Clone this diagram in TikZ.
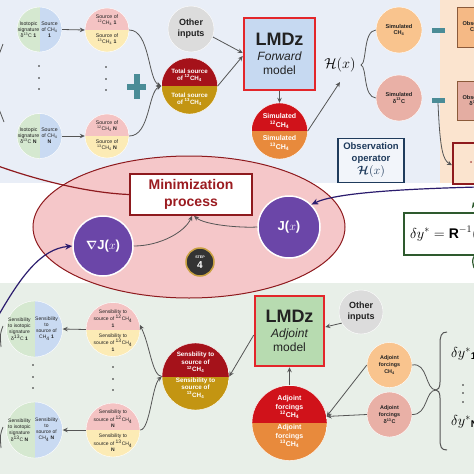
\documentclass[tikz,border=0pt]{standalone}
\usepackage{amsmath}
\usepackage{fontspec}
\setmainfont{Liberation Sans}
\usetikzlibrary{arrows.meta}
\newcommand\mych{CH\textsubscript{4}}
\newcommand\sps[1]{\textsuperscript{#1}}
\definecolor{topbg}{HTML}{E9EEF7}
\definecolor{orbg}{HTML}{FBE4CF}
\definecolor{botbg}{HTML}{E8EFE8}
\definecolor{cgreen}{HTML}{D5E8D0}
\definecolor{cblue}{HTML}{C9DAF2}
\definecolor{cpink}{HTML}{F4C3C3}
\definecolor{cyel}{HTML}{FCEBB5}
\definecolor{dred}{HTML}{A5121A}
\definecolor{gold}{HTML}{C39512}
\definecolor{bred}{HTML}{D0121A}
\definecolor{orng}{HTML}{E88A3C}
\definecolor{lorng}{HTML}{F9C48E}
\definecolor{lsalm}{HTML}{E9B0A6}
\definecolor{tealc}{HTML}{4A8C97}
\definecolor{lmdzred}{HTML}{E3262A}
\definecolor{fwdblue}{HTML}{C6D9F1}
\definecolor{adjgreen}{HTML}{B7DBB0}
\definecolor{ellfill}{HTML}{F5C7C9}
\definecolor{ellline}{HTML}{8E1A1E}
\definecolor{purp}{HTML}{6B46A8}
\definecolor{navy}{HTML}{2B1C6E}
\definecolor{obsnavy}{HTML}{1F3B5C}
\definecolor{arrgray}{HTML}{555555}
\definecolor{dgreen}{HTML}{2E5A2E}
\definecolor{othergray}{HTML}{DCDCDC}
\definecolor{txtdark}{HTML}{222222}
\definecolor{obsA}{HTML}{F5B985}
\definecolor{obsB}{HTML}{E4ADA2}
\definecolor{obsline}{HTML}{8B5A3A}
\definecolor{minired}{HTML}{9B1B20}
\begin{document}
\begin{tikzpicture}[x=1pt,y=-1pt,
  hs/.style n args={3}{circle, inner sep=0pt, minimum size=#3, draw=white, line width=0.4pt,
    path picture={\fill[#1] (path picture bounding box.north west) rectangle (path picture bounding box.east);
                  \fill[#2] (path picture bounding box.west) rectangle (path picture bounding box.south east);}},
  vs/.style n args={3}{circle, inner sep=0pt, minimum size=#3, draw=white, line width=0.4pt,
    path picture={\fill[#1] (path picture bounding box.north west) rectangle (path picture bounding box.south);
                  \fill[#2] (path picture bounding box.north) rectangle (path picture bounding box.south east);}},
  pc/.style 2 args={circle, inner sep=0pt, minimum size=#2, fill=#1, draw=white, line width=0.4pt},
  fs/.style={inner sep=0pt, align=center, font=\fontsize{5.2}{6}\selectfont, text=txtdark},
  fb/.style={inner sep=0pt, align=center, font=\fontsize{5.6}{6.6}\selectfont\bfseries, text=txtdark},
  fw/.style={inner sep=0pt, align=center, font=\fontsize{#1}{\dimexpr #1pt*6/5\relax}\selectfont\bfseries, text=white},
  arr/.style={draw=arrgray, line width=0.8pt, -{Stealth[length=5pt,width=4.5pt]}},
  ln/.style={draw=arrgray, line width=0.8pt},
  lmdz/.style={draw=lmdzred, line width=2.5pt, inner sep=0pt, align=center,
    font=\fontsize{12}{14}\selectfont, text=txtdark},
  obsbox/.style={draw=obsline, line width=0.8pt, minimum width=30pt, anchor=north west, inner sep=0pt}
]
\useasboundingbox (0,0) rectangle (474,474);
\clip (0,0) rectangle (474,474);
% backgrounds
\fill[topbg] (0,0) rectangle (440,183);
\fill[orbg] (440,0) rectangle (474,183);
\fill[white] (0,183) rectangle (474,283);
\fill[botbg] (0,283) rectangle (474,474);
% ellipse
\draw[draw=ellline, fill=ellfill, line width=1pt] (189,227) ellipse [x radius=156, y radius=71];

% ---------------- top panel ----------------
\node[vs={cgreen}{cblue}{45pt}] (s1) at (39.5,29.5) {};
\node[fs] (s1a) at ([xshift=-11pt]s1.center) {Isotopic\\signature\\δ\sps{13}C \textbf{1}};
\node[fs] (s1b) at ([xshift=10pt]s1.center) {Source\\of \mych\\\textbf{1}};
\node[vs={cgreen}{cblue}{45pt}] (sN) at (39.5,136) {};
\node[fs] (sNa) at ([xshift=-11pt]sN.center) {Isotopic\\signature\\δ\sps{13}C \textbf{N}};
\node[fs] (sNb) at ([xshift=10pt]sN.center) {Source\\of \mych\\\textbf{N}};

\node[hs={cpink}{cyel}{44pt}] (r1) at (107,30) {};
\node[fs] (r1a) at ([yshift=10pt]r1.center) {Source of\\\sps{12}\mych{} \textbf{1}};
\node[fs] (r1b) at ([yshift=-9pt]r1.center) {Source of\\\sps{13}\mych{} \textbf{1}};
\node[hs={cpink}{cyel}{44pt}] (rN) at (107,136) {};
\node[fs] (rNa) at ([yshift=10pt]rN.center) {Source of\\\sps{12}\mych{} \textbf{N}};
\node[fs] (rNb) at ([yshift=-9pt]rN.center) {Source of\\\sps{13}\mych{} \textbf{N}};

\foreach \yy in {66,78,89} {\fill[txtdark] (39,\yy) circle (0.9); \fill[txtdark] (106,\yy+1) circle (0.9);}

\draw[arr] (s1.east) -- (r1.west);
\draw[arr] (sN.east) -- (rN.west);
\draw[ln] (-3,60) .. controls (0,52) .. (3,44);
\draw[ln] (-3,104) .. controls (0,113) .. (4,122);

% plus
\fill[tealc] (127,83.5) rectangle (146,89.5);
\fill[tealc] (133.5,74) rectangle (139.5,99);

\node[hs={dred}{gold}{56pt}] (tot) at (189.5,86) {};
\node[fw=6.2] (tota) at ([yshift=11pt]tot.center) {Total source\\of \sps{12}\mych};
\node[fw=6.2] (totb) at ([yshift=-13pt]tot.center) {Total source\\of \sps{13}\mych};
\draw[arr] (r1.east) .. controls (150,30) and (148,80) .. (tot.west);
\draw[arr] (rN.east) .. controls (150,136) and (148,92) .. (tot.west);

\node[pc={othergray}{46pt}, font=\fontsize{9}{11}\selectfont\bfseries, text=txtdark, align=center] (oth) at (191,29) {Other\\inputs};

\node[lmdz, fill=fwdblue, minimum width=71pt, minimum height=72pt] (fwd) at (279.5,54)
  {{\fontsize{18}{18}\selectfont\bfseries LMDz}\\[1pt]{\itshape Forward}\\model};
\draw[arr] (oth.-20) -- ([yshift=1pt]fwd.west);
\draw[arr] (tot.east) -- ([yshift=-2pt]fwd.west);

\node[hs={bred}{orng}{56pt}] (sim) at (279.5,131) {};
\node[fw=7] (sima) at ([yshift=10pt]sim.center) {Simulated\\\sps{12}\mych};
\node[fw=7] (simb) at ([yshift=-12pt]sim.center) {Simulated\\\sps{13}\mych};
\draw[arr] (fwd.south) -- (sim.north);

\node[inner sep=0pt, font=\fontsize{15}{15}\selectfont] (Hx) at (340,65) {$\mathcal{H}(x)$};
\draw[arr] (sim.east) -- ([yshift=-17pt]Hx.center);

\node[pc={lorng}{46pt}] (scC) at (399,30) {};
\node[fb] (scCt) at (scC.center) {Simulated\\\mych};
\node[pc={lsalm}{46pt}] (scD) at (399,98) {};
\node[fb] (scDt) at (scD.center) {Simulated\\δ\sps{13}C};
\coordinate (Htip) at (361,65);
\draw[ln] (Htip) .. controls (367,63) and (363,31) .. (scC.west);
\draw[ln] (Htip) .. controls (367,67) and (363,97) .. (scD.west);

% minus signs
\fill[tealc] (432,28) rectangle (445,33);
\fill[tealc] (432,98) rectangle (445,103);

% observation boxes (right, cut by the frame as in the reference)
\node[obsbox, fill=obsA, minimum height=40pt] (obs1) at (457,7) {};
\node[fb] (obs1t) at (475.5,27) {Observed\\\mych};
\node[obsbox, fill=obsB, minimum height=39pt] (obs2) at (457,81) {};
\node[fb] (obs2t) at (475.5,100.5) {Observed\\δ\sps{13}C};
\node[draw=ellline, line width=1.5pt, fill=orbg, minimum width=40pt, minimum height=41pt, anchor=north west] (res) at (452,142) {};
\node[inner sep=0pt, font=\fontsize{6}{6}\selectfont, text=ellline, anchor=west] (rest) at (470,163) {•};
\coordinate (minus2) at (438,103);
\draw[arr] (minus2) .. controls (440,150) and (443,160) .. ([yshift=-2pt]res.west);

\node[draw=obsnavy, line width=1.5pt, fill=topbg!60!white, minimum width=66pt, minimum height=44pt,
  inner sep=0pt, align=center, text=obsnavy, font=\fontsize{9.5}{12}\selectfont\bfseries] (obsop) at (371,160.5)
  {Observation\\operator\\[1pt]{\fontsize{12}{12}\selectfont$\boldsymbol{\mathcal{H}}(x)$}};

% ---------------- middle ----------------
\node[draw=ellline, line width=1.8pt, fill=white, minimum width=122pt, minimum height=41pt, inner sep=0pt,
  align=center, text=minired, font=\fontsize{14}{17}\selectfont\bfseries] (mini) at (191,194.5) {Minimization\\process};
\coordinate (redstart) at (-2,166);
\draw[ellline, line width=1.2pt] (redstart) .. controls (40,181) and (90,193) .. (mini.west);

\node[circle, fill=purp, draw=white, line width=1.5pt, minimum size=60pt, inner sep=0pt, text=white,
  font=\fontsize{13}{13}\selectfont\bfseries] (gJ) at (103,246) {$\boldsymbol{\nabla}$J($x$)};
\node[circle, fill=purp, draw=white, line width=1.5pt, minimum size=62pt, inner sep=0pt, text=white,
  font=\fontsize{13}{13}\selectfont\bfseries] (J) at (289,227) {J($x$)};
\draw[arr] (gJ.east) .. controls (160,246) and (185,232) .. ([xshift=1pt]mini.south);
\draw[arr] (J.west) .. controls (240,228) and (205,225) .. ([xshift=3pt]mini.south);

\node[circle, fill=black!80, draw={rgb,255:red,200;green,160;blue,64}, line width=1.5pt, minimum size=28pt,
  inner sep=0pt] (step) at (200,262) {};
\node[inner sep=0pt, text=white, font=\fontsize{3.6}{4}\selectfont\bfseries] (stept) at ([yshift=5pt]step.center) {STEP};
\node[inner sep=0pt, text=white, font=\fontsize{10}{10}\selectfont\bfseries] (stepn) at ([yshift=-3pt]step.center) {4};

\coordinate (navyR) at (478,187);
\draw[navy, line width=1.2pt, -{Stealth[length=7pt,width=6pt]}] (navyR) .. controls (400,189) and (335,193) .. (J.45);
\coordinate (navyL) at (-3,318);
\draw[navy, line width=1.2pt, -{Stealth[length=7pt,width=6pt]}] (navyL) .. controls (20,278) and (40,249) .. (gJ.west);

\node[draw=dgreen, line width=1.5pt, fill=white, minimum width=80pt, minimum height=42pt, anchor=north west] (eq) at (403,212) {};
\node[inner sep=0pt, anchor=west, font=\fontsize{14}{14}\selectfont] (eqt) at (410,234) {$\delta y^{*}=\mathbf{R}^{-1}(y-\mathcal{H}(x))$};
\draw[dgreen, line width=1.2pt, -{Stealth[length=6pt,width=6pt]}] (476,212) -- (473,202);
\draw[dgreen, line width=1.2pt] (475,255) .. controls (472,260) .. (474,268);

% ---------------- bottom panel ----------------
\node[vs={cgreen}{cblue}{56pt}] (bl1) at (34.5,329) {};
\node[fs, font=\fontsize{5}{6}\selectfont] (bl1a) at ([xshift=-15pt]bl1.center) {Sensibility\\to isotopic\\signature\\δ\sps{13}C \textbf{1}};
\node[fs, font=\fontsize{5}{6}\selectfont] (bl1b) at ([xshift=12pt]bl1.center) {Sensibility\\to\\source of\\\mych{} \textbf{1}};
\node[vs={cgreen}{cblue}{56pt}] (blN) at (34.5,430) {};
\node[fs, font=\fontsize{5}{6}\selectfont] (blNa) at ([xshift=-15pt]blN.center) {Sensibility\\to isotopic\\signature\\δ\sps{13}C \textbf{N}};
\node[fs, font=\fontsize{5}{6}\selectfont] (blNb) at ([xshift=12pt]blN.center) {Sensibility\\to\\source of\\\mych{} \textbf{N}};

\node[hs={cpink}{cyel}{54pt}] (br1) at (113,329.5) {};
\node[fs, font=\fontsize{5}{6.3}\selectfont] (br1a) at ([yshift=11pt]br1.center) {Sensibility to\\source of \sps{12}\mych\\\textbf{1}};
\node[fs, font=\fontsize{5}{6.3}\selectfont] (br1b) at ([yshift=-13pt]br1.center) {Sensibility to\\source of \sps{13}\mych\\\textbf{1}};
\node[hs={cpink}{cyel}{54pt}] (brN) at (113,430) {};
\node[fs, font=\fontsize{5}{6.3}\selectfont] (brNa) at ([yshift=11pt]brN.center) {Sensibility to\\source of \sps{12}\mych\\\textbf{N}};
\node[fs, font=\fontsize{5}{6.3}\selectfont] (brNb) at ([yshift=-13pt]brN.center) {Sensibility to\\source of \sps{13}\mych\\\textbf{N}};

\foreach \yy in {365,377,388} {\fill[txtdark] (33,\yy) circle (0.9); \fill[txtdark] (113,\yy+2) circle (0.9);}

\draw[arr] (br1.west) -- (bl1.east);
\draw[arr] (brN.west) -- (blN.east);
\draw[ln] (3,326) .. controls (0,334) .. (1,347);
\draw[ln] (3,427) .. controls (0,435) .. (1,448);

\node[hs={dred}{gold}{67pt}] (bst) at (195.5,376.5) {};
\node[fw=6.3] (bsta) at ([yshift=14pt]bst.center) {Sensbility to\\source of\\\sps{12}\mych};
\node[fw=6.3] (bstb) at ([yshift=-11.5pt]bst.center) {Sensibility to\\source of\\\sps{13}\mych};
\draw[arr] (bst.west) .. controls (152,376) and (150,345) .. (br1.10);
\draw[arr] (brN.east) .. controls (150,430) and (152,385) .. (bst.west);

\node[lmdz, fill=adjgreen, minimum width=69pt, minimum height=70pt] (adj) at (289.5,331)
  {{\fontsize{18}{18}\selectfont\bfseries LMDz}\\[1pt]{\itshape Adjoint}\\model};
\draw[arr] ([yshift=-4pt]adj.west) -- (bst.east);

\node[pc={othergray}{44pt}, font=\fontsize{9}{11}\selectfont\bfseries, text=txtdark, align=center] (oth2) at (361,312) {Other\\inputs};
\draw[arr] (oth2.210) -- ([yshift=4pt]adj.east);

\node[hs={bred}{orng}{75pt}] (big) at (289.5,423) {};
\node[fw=7] (biga) at ([yshift=16pt]big.center) {Adjoint\\forcings\\\sps{12}\mych};
\node[fw=7] (bigb) at ([yshift=-13pt]big.center) {Adjoint\\forcings\\\sps{13}\mych};
\draw[arr] (big.north) -- (adj.south);

\node[pc={lorng}{45pt}] (afc) at (389.5,365) {};
\node[fb, font=\fontsize{5.4}{6.6}\selectfont\bfseries] (afct) at (afc.center) {Adjoint\\forcings\\\mych};
\node[pc={lsalm}{45pt}] (afd) at (389.5,414.5) {};
\node[fb, font=\fontsize{5.4}{6.6}\selectfont\bfseries] (afdt) at (afd.center) {Adjoint\\forcings\\δ\sps{13}C};
\draw[arr] (afc.west) -- (big.10);
\draw[arr] (afd.west) -- (big.10);

\coordinate (btip) at (436,390);
\draw[ln] (afc.east) .. controls (428,362) and (425,390) .. (btip);
\draw[ln] (afd.east) .. controls (428,415) and (425,390) .. (btip);
\draw[ln, line width=1pt] (447,332) .. controls (441,332) and (440,336) .. (440,345) -- (440,382)
  .. controls (440,388) and (438,390) .. (btip) .. controls (438,390) and (440,392) .. (440,398)
  -- (440,438) .. controls (440,447) and (441,450) .. (447,450);

\node[inner sep=0pt, anchor=west, font=\fontsize{14}{14}\selectfont] (dy1) at (451,354) {$\delta y^{*}{}_{\mathbf{1}}$};
\node[inner sep=0pt, anchor=west, font=\fontsize{14}{14}\selectfont] (dyN) at (451,422) {$\delta y^{*}{}_{\mathbf{N}}$};
\foreach \yy in {385,393,402} {\fill[txtdark] (463,\yy) circle (0.8);}
\end{tikzpicture}
\end{document}
